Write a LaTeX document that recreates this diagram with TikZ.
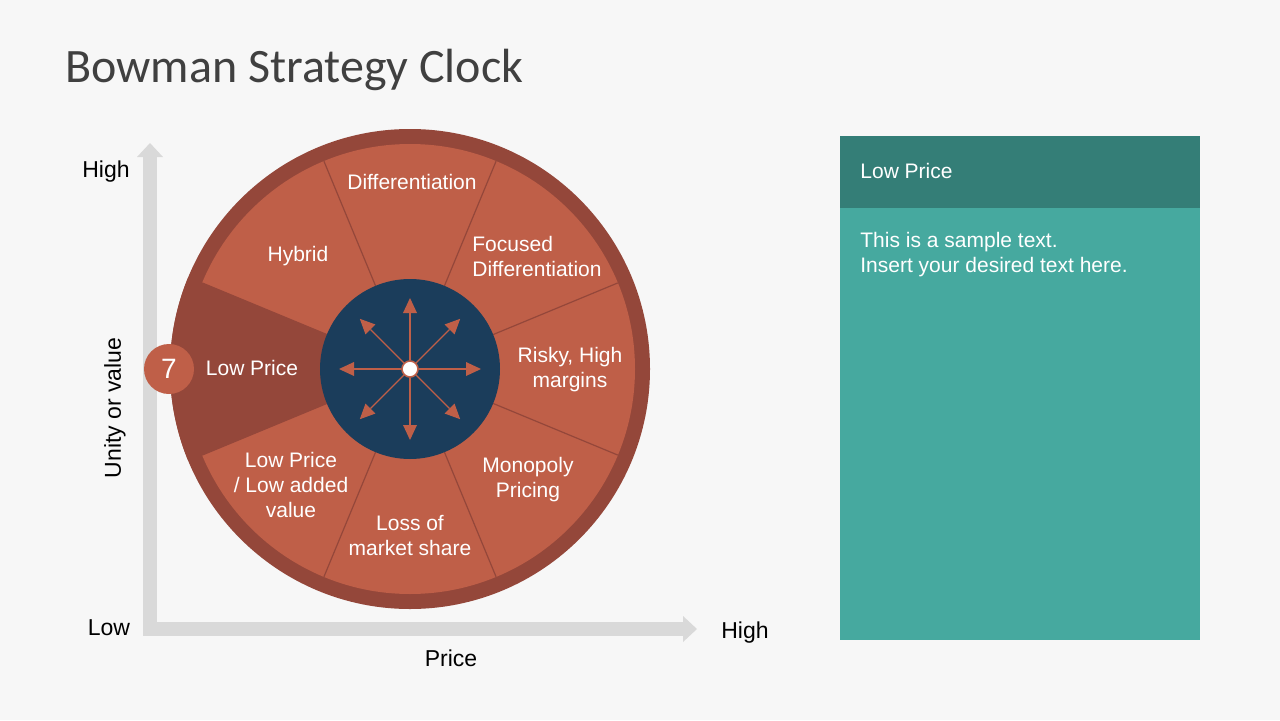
\documentclass[tikz,border=0pt]{standalone}
\usepackage{fontspec}
\setmainfont{Liberation Sans}
\newfontfamily\titlefont{Carlito}
\usepackage{xcolor}
\usetikzlibrary{arrows.meta}

\definecolor{bg}{HTML}{F7F7F7}
\definecolor{wedge}{HTML}{BF5F48}
\definecolor{ring}{HTML}{94473A}
\definecolor{navy}{HTML}{1B3D5B}
\definecolor{tealdark}{HTML}{347E77}
\definecolor{teallight}{HTML}{46A99F}
\definecolor{axisgrey}{HTML}{D9D9D9}
\definecolor{titlegrey}{HTML}{404040}

\begin{document}
\begin{tikzpicture}[x=0.5pt, y=0.5pt,
        lbl/.style={text=white, font=\fontsize{10.5}{12.5}\selectfont, align=center, inner sep=0pt},
        axislbl/.style={font=\fontsize{11.5}{13.5}\selectfont, inner sep=0pt},
        axis/.style={draw=axisgrey, line width=7pt,
            {Triangle[width=13pt,length=7pt,line width=0pt]}-{Triangle[width=13pt,length=7pt,line width=0pt]}},
        spoke/.style={draw=wedge, line width=0.6pt, -{Triangle[width=7pt,length=7.5pt,line width=0pt]}}]

        \useasboundingbox (0,0) rectangle (1280,720);
        \fill[bg] (0,0) rectangle (1280,720);

        \node[anchor=base west, inner sep=0pt, text=titlegrey, font=\titlefont\fontsize{24}{28}\selectfont, name=title] at (65,638) {Bowman Strategy Clock};

        % axes
        \coordinate (ytip) at (150,577);
        \coordinate (origin) at (150,91);
        \coordinate (xtip) at (697,91);
        \draw[axis] (ytip) -- (origin) -- (xtip);
        \node[axislbl, name=yhigh] at (106,548) {High};
        \node[axislbl, name=ylow] at (109,92) {Low};
        \node[axislbl, name=xhigh] at (745,87) {High};
        \node[axislbl, name=xlabel] at (451,62) {Price};
        \node[axislbl, rotate=90, name=ylabel] at (115,312) {Unity or value};

        % clock
        \coordinate (c) at (410,351);
        \fill[ring] (c) circle (240);
        \fill[wedge] (c) circle (225);
        \fill[ring] (c) -- ++(157.5:240) arc (157.5:202.5:240) -- cycle;
        \foreach \a in {22.5,67.5,...,337.5}
            \draw[ring, line width=0.6pt] ([shift={(\a:90)}]c) -- ([shift={(\a:225)}]c);
        \fill[navy] (c) circle (90);

        \node[circle, fill=white, draw=wedge, line width=0.8pt, minimum size=8pt, inner sep=0pt, name=hub] at (c) {};
        \foreach \a in {0,45,...,315} {
            \coordinate (tip\a) at ([shift={(\a:71)}]c);
            \draw[spoke] (hub) -- (tip\a);
        }

        \node[circle, fill=wedge, minimum size=25pt, inner sep=0pt, text=white, font=\fontsize{14}{14}\selectfont, name=num] at (169,351) {7};

        \node[lbl, name=diff] at (412,538) {Differentiation};
        \node[lbl, name=hybrid] at (298,464) {Hybrid};
        \node[lbl, align=left, anchor=west, name=focus] at (472,463.5) {Focused\\Differentiation};
        \node[lbl, name=risky] at (570,350.5) {Risky, High\\margins};
        \node[lbl, name=mono] at (528,240.5) {Monopoly\\Pricing};
        \node[lbl, name=loss] at (410,184.5) {Loss of\\market share};
        \node[lbl, name=lowadded] at (291,235.5) {Low Price\\/ Low added\\value};
        \node[lbl, name=lowprice] at (252,352) {Low Price};

        % side panel
        \fill[tealdark] (840,512) rectangle (1200,584);
        \fill[teallight] (840,80) rectangle (1200,512);
        \node[lbl, anchor=west, name=head] at (860,549) {Low Price};
        \node[lbl, align=left, anchor=north west, name=body] at (860,488) {This is a sample text.\\Insert your desired text here.};
    \end{tikzpicture}
\end{document}
